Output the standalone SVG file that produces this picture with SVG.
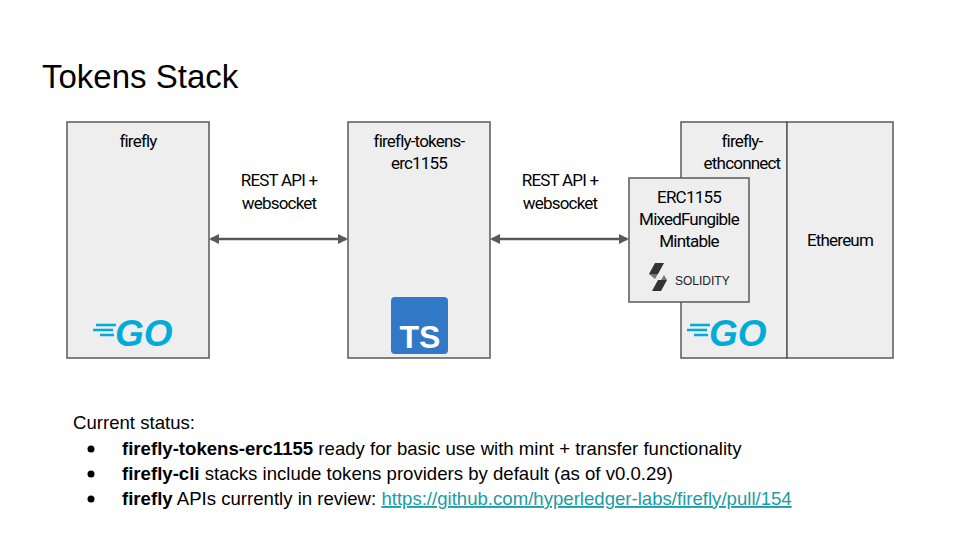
<svg xmlns="http://www.w3.org/2000/svg" width="960" height="540" viewBox="0 0 960 540">
<defs>
<style>
.box{fill:#eeeeee;stroke:#595959;stroke-width:1.5}
.lbl{font-family:Roboto,"Liberation Sans",sans-serif;font-size:17px;fill:#000;text-anchor:middle;letter-spacing:-0.8px}
.go{font-family:"Liberation Sans",sans-serif;font-weight:bold;font-style:italic;font-size:37px;fill:#00acd7}
.body{font-family:"Liberation Sans",Arial,sans-serif;font-size:18.6px;fill:#000}
.con{stroke:#595959;stroke-width:2.5;fill:none}
</style>
<marker id="ah" viewBox="0 0 10 10" refX="8" refY="5" markerWidth="4" markerHeight="4" orient="auto-start-reverse"><path d="M0,0L10,5L0,10z" fill="#595959"/></marker>
<g id="golines"><path d="M-30,-8h20M-33,-3h20M-26,2h14" stroke="#00acd7" stroke-width="2.5"/></g>
</defs>
<rect width="960" height="540" fill="#fff"/>
<text x="42" y="88" font-family="Liberation Sans,Arial,sans-serif" font-size="33" fill="#000">Tokens Stack</text>
<g id="connectors">
<path class="con" d="M211,239H346" marker-start="url(#ah)" marker-end="url(#ah)"/>
<path class="con" d="M492,239H627" marker-start="url(#ah)" marker-end="url(#ah)"/>
</g>
<text class="lbl" x="279" y="186">REST API +</text>
<text class="lbl" x="279" y="209">websocket</text>
<text class="lbl" x="560" y="186">REST API +</text>
<text class="lbl" x="560" y="209">websocket</text>
<g id="firefly">
<rect class="box" x="67" y="122" width="142" height="236"/>
<text class="lbl" x="138" y="147">firefly</text>
<use href="#golines" x="126" y="333"/>
<text class="go" x="115" y="346">GO</text>
</g>
<g id="tokens">
<rect class="box" x="348" y="122" width="142" height="236"/>
<text class="lbl" x="419" y="147">firefly-tokens-</text>
<text class="lbl" x="419" y="169">erc1155</text>
<rect x="391" y="297" width="57" height="57" rx="4" fill="#3178c6"/>
<text x="420" y="348" font-family="Liberation Sans,sans-serif" font-weight="bold" font-size="32" fill="#fff" text-anchor="middle">TS</text>
</g>
<g id="ethconnect">
<rect class="box" x="681" y="122" width="106" height="236"/>
<text class="lbl" x="742" y="147">firefly-</text>
<text class="lbl" x="742" y="169">ethconnect</text>
<use href="#golines" x="720" y="333"/>
<text class="go" x="709" y="346">GO</text>
</g>
<g id="ethereum">
<rect class="box" x="787" y="122" width="106" height="236"/>
<text class="lbl" x="840" y="246">Ethereum</text>
</g>
<g id="erc1155">
<rect class="box" x="629" y="178" width="120" height="124"/>
<text class="lbl" x="689" y="203">ERC1155</text>
<text class="lbl" x="689" y="225">MixedFungible</text>
<text class="lbl" x="689" y="247">Mintable</text>
<polygon points="655,263 664,263 658,274 649,274" fill="#333"/>
<polygon points="649,274 658,274 655,279" fill="#777"/>
<polygon points="658,280 667,280 661,291 652,291" fill="#333"/>
<polygon points="667,280 661,280 664,275" fill="#777"/>
<text x="675" y="285" font-family="Liberation Sans,sans-serif" font-size="12" fill="#222">SOLIDITY</text>
</g>
<text class="body" x="73" y="429">Current status:</text>
<g class="body">
<circle cx="91" cy="449" r="3.5"/><circle cx="91" cy="474" r="3.5"/><circle cx="91" cy="499" r="3.5"/>
<text x="122" y="455"><tspan font-weight="bold">firefly-tokens-erc1155</tspan> ready for basic use with mint + transfer functionality</text>
<text x="122" y="480"><tspan font-weight="bold">firefly-cli</tspan> stacks include tokens providers by default (as of v0.0.29)</text>
<text x="122" y="505"><tspan font-weight="bold">firefly</tspan> APIs currently in review: <tspan fill="#1a9ca6" text-decoration="underline">https://github.com/hyperledger-labs/firefly/pull/154</tspan></text>
</g>
</svg>
